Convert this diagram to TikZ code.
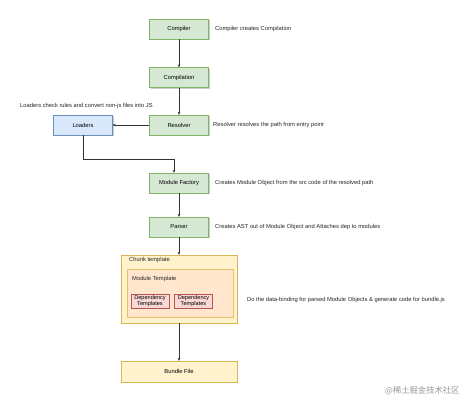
\documentclass[tikz,border=0pt]{standalone}
\usepackage{fontspec}
\setmainfont{Liberation Sans}
\newfontfamily\cjk{Noto Sans CJK SC}
\usetikzlibrary{arrows.meta,shadows}
\definecolor{gfill}{HTML}{D5E8D4}\definecolor{gdraw}{HTML}{82B366}
\definecolor{bfill}{HTML}{DAE8FC}\definecolor{bdraw}{HTML}{6C8EBF}
\definecolor{yfill}{HTML}{FFF2CC}\definecolor{ydraw}{HTML}{D6B656}
\definecolor{ofill}{HTML}{FFE6CC}\definecolor{odraw}{HTML}{D79B00}
\definecolor{rfill}{HTML}{F8CECC}\definecolor{rdraw}{HTML}{B85450}
\begin{document}
\begin{tikzpicture}[x=1pt,y=-1pt,
  font=\fontsize{5.8}{6.5}\selectfont,
  box/.style={draw, line width=0.4pt, minimum width=59pt, minimum height=20pt, inner sep=0pt,
     drop shadow={shadow xshift=1pt, shadow yshift=-1pt, opacity=0.2, fill=black}},
  gbox/.style={box, fill=gfill, draw=gdraw},
  bbox/.style={box, fill=bfill, draw=bdraw},
  note/.style={anchor=west, inner sep=0pt, text=black!85},
  conn/.style={draw=black!80, line width=0.6pt, -{Stealth[length=3pt,width=2.8pt]}},
  depbox/.style={draw=rdraw, fill=rfill!80, line width=0.4pt, minimum width=38pt, minimum height=14pt, inner sep=0pt, align=center, font=\fontsize{5.6}{6}\selectfont}
]
\useasboundingbox (0,0) rectangle (474,407);
\fill[white] (0,0) rectangle (474,407);

\node[gbox] (compiler) at (179,29) {Compiler};
\node[gbox] (compilation) at (179,77.5) {Compilation};
\node[gbox] (resolver) at (179,125) {Resolver};
\node[bbox] (loaders) at (83,125) {Loaders};
\node[gbox] (factory) at (179,183) {Module Factory};
\node[gbox] (parser) at (179,227) {Parser};

\node[draw=ydraw, fill=yfill, line width=0.4pt, minimum width=116pt, minimum height=68pt, inner sep=0pt,
  drop shadow={shadow xshift=1pt, shadow yshift=-1pt, opacity=0.2, fill=black}] (chunk) at (179,289) {};
\node[note] (chunklbl) at (129,260) {Chunk template};
\node[draw=odraw!60, fill=ofill, line width=0.4pt, minimum width=106pt, minimum height=48pt, inner sep=0pt] (module) at (180,293) {};
\node[note] (modlbl) at (132,279) {Module Template};
\node[depbox] (dep1) at (150,301) {Dependency\\Templates};
\node[depbox] (dep2) at (193.5,301) {Dependency\\Templates};

\node[box, fill=yfill, draw=ydraw, minimum width=116pt, minimum height=21pt] (bundle) at (179,371.5) {Bundle File};

\node[note] (t1) at (215,29) {Compiler creates Compilation};
\node[note] (t2) at (20,106) {Loaders check rules and convert non-js files into JS};
\node[note] (t3) at (213,125) {Resolver resolves the path from entry point};
\node[note] (t4) at (215,183) {Creates Module Object from the src code of the resolved path};
\node[note] (t5) at (215,227) {Creates AST out of Module Object and Attaches dep to modules};
\node[note] (t6) at (247,300) {Do the data-binding for parsed Module Objects \& generate code for bundle.js};
\node[note, text=black!40, font=\fontsize{8.3}{9}\cjk] (wm) at (385,391) {@稀土掘金技术社区};

\coordinate (bend1) at (83,159);
\coordinate (bend2) at (174,159);
\path[conn] (compiler) -- (compilation);
\path[conn] (compilation) -- (resolver);
\path[conn] (resolver) -- (loaders);
\path[conn] (loaders.south) -- (bend1) -- (bend2) -- (bend2 |- factory.north);
\path[conn] (factory) -- (parser);
\path[conn] (parser) -- (chunk.north);
\path[conn] (chunk) -- (bundle);
\end{tikzpicture}
\end{document}
